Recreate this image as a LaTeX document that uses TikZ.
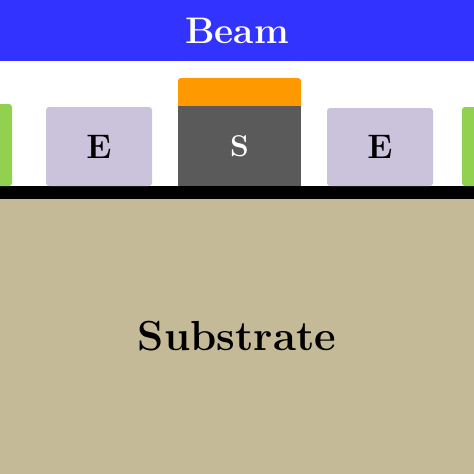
\documentclass[tikz,border=0pt]{standalone}
\usepackage{tikz}
\usetikzlibrary{positioning}

\definecolor{beamblue}{RGB}{51,51,255}
\definecolor{subtan}{RGB}{196,186,152}
\definecolor{elavender}{RGB}{203,195,220}
\definecolor{sgray}{RGB}{90,90,90}
\definecolor{sorange}{RGB}{255,153,0}
\definecolor{gatgreen}{RGB}{146,208,80}

\tikzset{
    layer/.style={anchor=north west, inner sep=0pt, outer sep=0pt},
    electrode/.style={layer, rounded corners=3pt},
}

\begin{document}
\begin{tikzpicture}[x=1pt,y=-1pt]
        \useasboundingbox (0,0) rectangle (474,474);
        \clip (0,0) rectangle (474,474);
        % beam and substrate
        \node[layer, fill=beamblue, minimum width=474pt, minimum height=61pt,
              text=white, font=\fontsize{37}{39}\selectfont\bfseries] (beam) at (0,0) {Beam};
        \node[layer, fill=subtan, minimum width=474pt, minimum height=275pt,
              font=\fontsize{42}{44}\selectfont\bfseries] (substrate) at (0,199) {Substrate};
        \node[layer, fill=black, minimum width=474pt, minimum height=13pt] (film) at (0,186) {};
        % electrodes
        \node[electrode, fill=gatgreen, minimum width=22pt, minimum height=82pt] (gl) at (-10,104) {};
        \node[electrode, fill=elavender, minimum width=106pt, minimum height=79pt,
              font=\fontsize{34}{36}\selectfont\bfseries] (el) at (46,107) {E};
        \node[electrode, fill=sorange, minimum width=123pt, minimum height=34pt] (cap) at (178,78) {};
        \node[layer, fill=sgray, minimum width=123pt, minimum height=80pt,
              text=white, font=\fontsize{30}{32}\selectfont\bfseries] (s) at (178,106) {S};
        \node[electrode, fill=elavender, minimum width=106pt, minimum height=78pt,
              font=\fontsize{34}{36}\selectfont\bfseries] (er) at (327,108) {E};
        \node[electrode, fill=gatgreen, minimum width=22pt, minimum height=79pt] (gr) at (462,107) {};
    \end{tikzpicture}
\end{document}
